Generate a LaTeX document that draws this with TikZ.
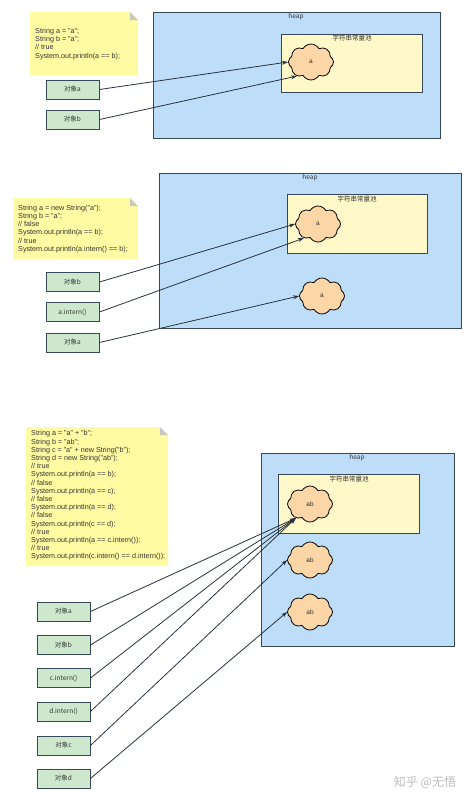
\documentclass[tikz,border=0pt]{standalone}
\usepackage{fontspec}
\setmainfont{Liberation Sans}
\newfontfamily\cjkfont{Noto Sans CJK SC}
\usetikzlibrary{shapes.symbols,arrows.meta}
\definecolor{edgec}{HTML}{364858}
\definecolor{heapfill}{HTML}{BEDDF8}
\definecolor{poolfill}{HTML}{FFF8C8}
\definecolor{notefill}{HTML}{FFFBA3}
\definecolor{foldc}{HTML}{C8C8C0}
\definecolor{cloudfill}{HTML}{FDD6A8}
\definecolor{boxfill}{HTML}{CDE8CD}
\definecolor{linec}{HTML}{26323E}
\definecolor{textc}{HTML}{333333}
\definecolor{wmark}{HTML}{BBBBBB}
\begin{document}
\begin{tikzpicture}[x=1pt,y=-1pt,
  heapbox/.style={draw=edgec, fill=heapfill, line width=0.9pt, anchor=north west, inner sep=0},
  poolbox/.style={draw=edgec, fill=poolfill, line width=0.9pt, anchor=north west, inner sep=0},
  objbox/.style={draw=edgec, fill=boxfill, line width=0.9pt, minimum width=53pt, minimum height=19pt, inner sep=0, text=textc, font=\cjkfont\fontsize{6.5}{7}\selectfont},
  strcloud/.style={cloud, cloud puffs=8, cloud puff arc=120, draw=black, fill=cloudfill, line width=0.8pt, minimum width=45pt, minimum height=36pt, inner sep=0, text=textc, font=\fontsize{6.5}{7}\selectfont},
  lbl/.style={inner sep=0, text=textc, font=\cjkfont\fontsize{6.5}{7}\selectfont},
  code/.style={align=left, inner sep=0, anchor=west, text=textc, font=\fontsize{7.2}{8.2}\selectfont},
  notebg/.style={fill=notefill},
  fold/.style={fill=foldc},
  ref/.style={draw=linec, line width=0.8pt, -{Stealth[length=6pt,width=4pt]}}
]
\useasboundingbox (0,0) rectangle (474,801);

% ---------- section 1 ----------
\fill[notebg] (30,12) -- (130,12) -- (138,20) -- (138,75) -- (30,75) -- cycle;
\fill[fold] (130,12) -- (138,20) -- (130,20) -- cycle;
\node[code] (code1) at (35,44) {String a = "a";\\String b = "a";\\// true\\System.out.println(a == b);};

\node[heapbox, minimum width=287pt, minimum height=126pt] (heap1) at (153,12) {};
\node[lbl] (heaplbl1) at (296,17) {heap};
\node[poolbox, minimum width=141pt, minimum height=58pt] (pool1) at (281,34) {};
\node[lbl] (poollbl1) at (352,38) {字符串常量池};
\node[strcloud] (c1) at (311,62) {a};

\node[objbox] (oa1) at (72.5,89.5) {对象a};
\node[objbox] (ob1) at (72.5,119.5) {对象b};
\draw[ref] (oa1.east) -- (c1.west);
\draw[ref] (ob1.east) -- (c1.225);

% ---------- section 2 ----------
\fill[notebg] (13,198) -- (130,198) -- (138,206) -- (138,259) -- (13,259) -- cycle;
\fill[fold] (130,198) -- (138,206) -- (130,206) -- cycle;
\node[code] (code2) at (18,229) {String a = new String("a");\\String b = "a";\\// false\\System.out.println(a == b);\\// true\\System.out.println(a.intern() == b);};

\node[heapbox, minimum width=302pt, minimum height=155pt] (heap2) at (159,173) {};
\node[lbl] (heaplbl2) at (310,178) {heap};
\node[poolbox, minimum width=140pt, minimum height=59pt] (pool2) at (287,194) {};
\node[lbl] (poollbl2) at (357,199) {字符串常量池};
\node[strcloud] (c2a) at (318,224) {a};
\node[strcloud] (c2b) at (322,296) {a};

\node[objbox] (ob2) at (72.5,282) {对象b};
\node[objbox] (ai2) at (72.5,312) {a.intern()};
\node[objbox] (oa2) at (72.5,342.5) {对象a};
\draw[ref] (ob2.east) -- (c2a.west);
\draw[ref] (ai2.east) -- (c2a.225);
\draw[ref] (oa2.east) -- (c2b.west);

% ---------- section 3 ----------
\fill[notebg] (26,427) -- (160,427) -- (168,435) -- (168,566) -- (26,566) -- cycle;
\fill[fold] (160,427) -- (168,435) -- (160,435) -- cycle;
\node[code] (code3) at (31,495.5) {String a = "a" + "b";\\String b = "ab";\\String c = "a" + new String("b");\\String d = new String("ab");\\// true\\System.out.println(a == b);\\// false\\System.out.println(a == c);\\// false\\System.out.println(a == d);\\// false\\System.out.println(c == d);\\// true\\System.out.println(a == c.intern());\\// true\\System.out.println(c.intern() == d.intern());};

\node[heapbox, minimum width=193pt, minimum height=193pt] (heap3) at (261,453) {};
\node[lbl] (heaplbl3) at (357,458) {heap};
\node[poolbox, minimum width=141pt, minimum height=59pt] (pool3) at (278,474) {};
\node[lbl] (poollbl3) at (349,479) {字符串常量池};
\node[strcloud] (c3a) at (310,504) {ab};
\node[strcloud] (c3b) at (310,560) {ab};
\node[strcloud] (c3c) at (310,612) {ab};

\node[objbox] (oa3) at (63.5,611.5) {对象a};
\node[objbox] (ob3) at (63.5,645) {对象b};
\node[objbox] (ci3) at (63.5,678) {c.intern()};
\node[objbox] (di3) at (63.5,711.5) {d.intern()};
\node[objbox] (oc3) at (63.5,745.5) {对象c};
\node[objbox] (od3) at (63.5,778.5) {对象d};
\draw[ref] (oa3.east) -- (c3a.225);
\draw[ref] (ob3.east) -- (c3a.225);
\draw[ref] (ci3.east) -- (c3a.225);
\draw[ref] (di3.east) -- (c3a.225);
\draw[ref] (oc3.east) -- (c3b.west);
\draw[ref] (od3.east) -- (c3c.west);

\node[inner sep=0, text=wmark, font=\cjkfont\fontsize{12}{13}\selectfont] (wm) at (425,782) {知乎 @无悟};
\end{tikzpicture}
\end{document}
